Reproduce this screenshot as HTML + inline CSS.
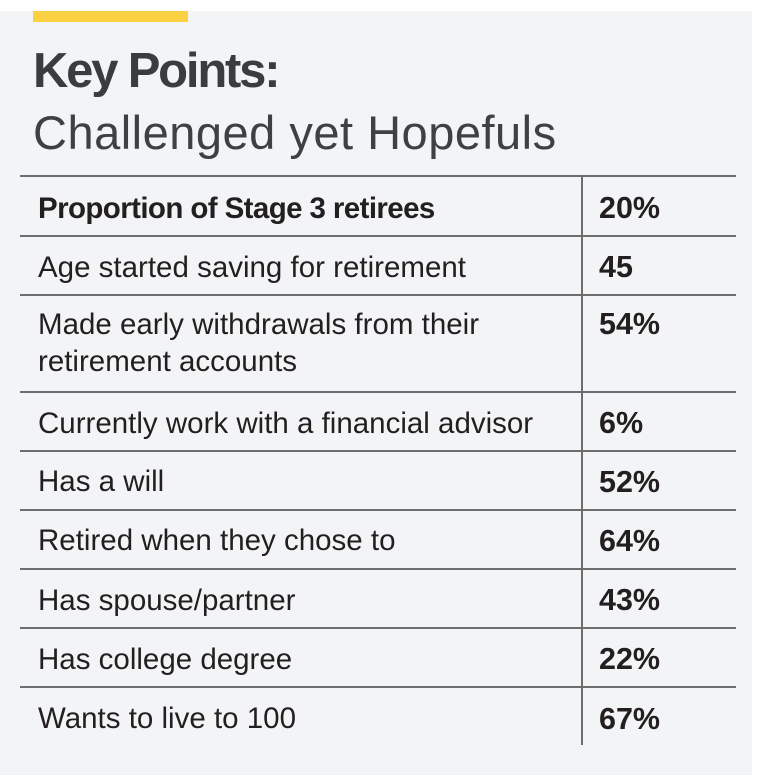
<!DOCTYPE html>
<html>
<head>
<meta charset="utf-8">
<style>
  html, body { margin:0; padding:0; }
  body { width:768px; height:781px; background:#ffffff; position:relative; overflow:hidden; font-family:"Liberation Sans", sans-serif; }
  .panel { position:absolute; left:0; top:11px; width:752px; height:764px; background:#f3f4f6; }
  .bar { position:absolute; left:33px; top:11px; width:155px; height:11px; background:#f9d143; }
  .t1 { position:absolute; left:33px; top:47px; font-size:49px; line-height:1; font-weight:bold; color:#3a3d40; letter-spacing:-2.2px; white-space:nowrap; }
  .t2 { position:absolute; left:33px; top:108.5px; font-size:47px; line-height:1; color:#3e4044; letter-spacing:0.5px; white-space:nowrap; }
  .h { position:absolute; left:20px; width:716px; height:2px; background:#6d6d6d; }
  .v { position:absolute; left:581px; top:176px; width:2px; height:569px; background:#6d6d6d; }
  .lbl { position:absolute; left:38px; font-size:29.5px; line-height:1; color:#231f20; white-space:nowrap; }
  .val { position:absolute; left:599px; font-size:30.5px; line-height:1; font-weight:bold; color:#231f20; white-space:nowrap; }
  .b { font-weight:bold; letter-spacing:-0.6px; }
</style>
</head>
<body>
  <div class="panel"></div>
  <div class="bar"></div>
  <div class="t1">Key Points:</div>
  <div class="t2">Challenged yet Hopefuls</div>

  <div class="h" style="top:175px"></div>
  <div class="h" style="top:235px"></div>
  <div class="h" style="top:293.5px"></div>
  <div class="h" style="top:390.5px"></div>
  <div class="h" style="top:449.5px"></div>
  <div class="h" style="top:508.5px"></div>
  <div class="h" style="top:567.5px"></div>
  <div class="h" style="top:626.5px"></div>
  <div class="h" style="top:685.5px"></div>
  <div class="v"></div>

  <div class="lbl b" style="top:194px">Proportion of Stage 3 retirees</div>
  <div class="val" style="top:193px">20%</div>

  <div class="lbl" style="top:252.5px">Age started saving for retirement</div>
  <div class="val" style="top:252px">45</div>

  <div class="lbl" style="top:305.5px; line-height:37.4px;">Made early withdrawals from their<br>retirement accounts</div>
  <div class="val" style="top:309px">54%</div>

  <div class="lbl" style="top:408.5px">Currently work with a financial advisor</div>
  <div class="val" style="top:408px">6%</div>

  <div class="lbl" style="top:467px">Has a will</div>
  <div class="val" style="top:467px">52%</div>

  <div class="lbl" style="top:526px">Retired when they chose to</div>
  <div class="val" style="top:526px">64%</div>

  <div class="lbl" style="top:585.5px">Has spouse/partner</div>
  <div class="val" style="top:585px">43%</div>

  <div class="lbl" style="top:644.5px">Has college degree</div>
  <div class="val" style="top:644px">22%</div>

  <div class="lbl" style="top:704px">Wants to live to 100</div>
  <div class="val" style="top:703.5px">67%</div>
</body>
</html>
